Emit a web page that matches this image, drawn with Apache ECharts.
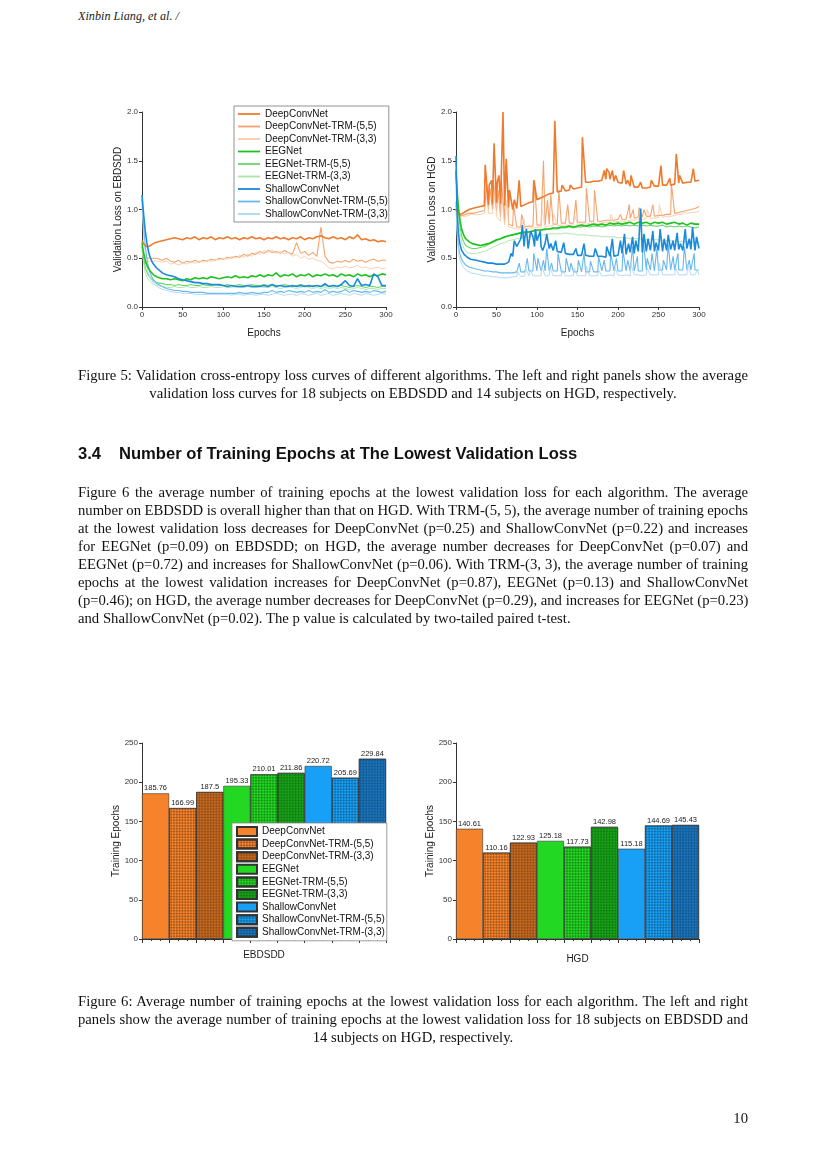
<!DOCTYPE html>
<html>
<head>
<meta charset="utf-8">
<script src="https://cdn.jsdelivr.net/npm/echarts@6/dist/echarts.min.js"></script>
<style>
  html, body { margin:0; padding:0; background:#fff; }
  #page { position:relative; width:827px; height:1169px; overflow:hidden; background:#fff; }
  .chart { position:absolute; left:0; top:0; width:827px; height:1169px; }
  .t { position:absolute; font-family:"Liberation Serif","Times New Roman",serif; font-size:14.7px; line-height:18px; color:#111; white-space:nowrap; }
  .j { left:78px; width:670px; text-align:justify; text-align-last:justify; }
  .c { left:78px; width:670px; text-align:center; }
  .l { left:78px; width:670px; text-align:left; }
  .hdr { position:absolute; left:78px; top:9px; font-family:"Liberation Serif",serif; font-style:italic; font-size:12.2px; color:#222; }
  .sec { position:absolute; top:444px; font-family:"Liberation Sans",Arial,sans-serif; font-weight:bold; font-size:16.6px; color:#111; white-space:nowrap; }
</style>
</head>
<body>
<div id="page">
  <div class="hdr">Xinbin Liang, et al. /</div>

  <div id="lines" class="chart"></div>
  <div id="bars" class="chart"></div>

  <div class="t j" style="top:366px">Figure 5: Validation cross-entropy loss curves of different algorithms. The left and right panels show the average</div>
  <div class="t c" style="top:384px">validation loss curves for 18 subjects on EBDSDD and 14 subjects on HGD, respectively.</div>

  <div class="sec" style="left:78px">3.4</div>
  <div class="sec" style="left:119px">Number of Training Epochs at The Lowest Validation Loss</div>

  <div class="t j" style="top:483px">Figure 6 the average number of training epochs at the lowest validation loss for each algorithm. The average</div>
  <div class="t j" style="top:501px">number on EBDSDD is overall higher than that on HGD. With TRM-(5, 5), the average number of training epochs</div>
  <div class="t j" style="top:519px">at the lowest validation loss decreases for DeepConvNet (p=0.25) and ShallowConvNet (p=0.22) and increases</div>
  <div class="t j" style="top:537px">for EEGNet (p=0.09) on EBDSDD; on HGD, the average number decreases for DeepConvNet (p=0.07) and</div>
  <div class="t j" style="top:555px">EEGNet (p=0.72) and increases for ShallowConvNet (p=0.06). With TRM-(3, 3), the average number of training</div>
  <div class="t j" style="top:573px">epochs at the lowest validation increases for DeepConvNet (p=0.87), EEGNet (p=0.13) and ShallowConvNet</div>
  <div class="t j" style="top:591px">(p=0.46); on HGD, the average number decreases for DeepConvNet (p=0.29), and increases for EEGNet (p=0.23)</div>
  <div class="t l" style="top:609px">and ShallowConvNet (p=0.02). The p value is calculated by two-tailed paired t-test.</div>

  <div class="t j" style="top:992px">Figure 6: Average number of training epochs at the lowest validation loss for each algorithm. The left and right</div>
  <div class="t j" style="top:1010px">panels show the average number of training epochs at the lowest validation loss for 18 subjects on EBDSDD and</div>
  <div class="t c" style="top:1028px">14 subjects on HGD, respectively.</div>

  <div class="t" style="left:700px;width:48px;text-align:right;top:1109px">10</div>
</div>

<script>
// fit justified lines that are naturally a bit too wide
document.querySelectorAll('.j').forEach(el => {
  let ws = 0;
  while (el.scrollWidth > el.clientWidth + 0.5 && ws > -3) {
    ws -= 0.25;
    el.style.wordSpacing = ws + 'px';
  }
});

// ---------------- DATA ----------------
const SERIES_NAMES = ['DeepConvNet','DeepConvNet-TRM-(5,5)','DeepConvNet-TRM-(3,3)',
  'EEGNet','EEGNet-TRM-(5,5)','EEGNet-TRM-(3,3)',
  'ShallowConvNet','ShallowConvNet-TRM-(5,5)','ShallowConvNet-TRM-(3,3)'];

const EPOCHS = [0,1,2,3,4,5,6,7,8,10,12,14,16,18,20,
  25,30,35,40,45,50,55,60, 65,70,75,80,85,90,95,100, 105,110,115,120,125,130,135,140,
  145,150,155,160,165,170,175,180, 185,190,195,200,205,210,215,220,
  225,230,235,240,245,250,255,260, 265,270,275,280,285,290,295,300];

// EBDSDD validation loss (left panel)
const L_deep = [0.68,0.66,0.65,0.64,0.63,0.62,0.62,0.61,0.62,0.63,0.64,0.65,0.66,0.66,0.67,
  0.68,0.69,0.70,0.71,0.70,0.69,0.71,0.70, 0.72,0.69,0.71,0.70,0.72,0.69,0.71,0.70,
  0.72,0.70,0.71,0.69,0.71,0.70,0.72,0.70, 0.71,0.69,0.71,0.70,0.72,0.70,0.71,0.69,
  0.71,0.70,0.72,0.69,0.71,0.70,0.72,0.73, 0.71,0.70,0.72,0.70,0.71,0.69,0.72,0.70,
  0.74,0.69,0.70,0.68,0.69,0.67,0.68,0.67];
const L_deep5 = [0.62,0.58,0.55,0.53,0.52,0.51,0.50,0.50,0.49,0.50,0.49,0.50,0.49,0.50,0.49,
  0.48,0.50,0.47,0.46,0.48,0.45,0.47,0.46, 0.48,0.46,0.48,0.47,0.49,0.48,0.50,0.49,
  0.51,0.50,0.52,0.51,0.54,0.52,0.55,0.54, 0.57,0.55,0.58,0.56,0.57,0.55,0.58,0.56,
  0.54,0.66,0.55,0.57,0.53,0.56,0.52,0.82, 0.52,0.46,0.45,0.47,0.46,0.48,0.46,0.49,
  0.47,0.48,0.46,0.48,0.49,0.47,0.48,0.48];
const L_deep3 = [0.58,0.52,0.48,0.46,0.45,0.45,0.46,0.47,0.48,0.47,0.48,0.47,0.48,0.47,0.48,
  0.46,0.47,0.44,0.45,0.43,0.45,0.44,0.46, 0.45,0.47,0.46,0.48,0.47,0.49,0.48,0.50,
  0.49,0.52,0.50,0.53,0.51,0.54,0.52,0.56, 0.54,0.58,0.56,0.59,0.55,0.57,0.54,0.56,
  0.52,0.54,0.50,0.52,0.49,0.50,0.48,0.47, 0.44,0.40,0.39,0.41,0.40,0.42,0.40,0.41,
  0.43,0.40,0.41,0.39,0.40,0.41,0.39,0.40];
const L_eeg = [0.66,0.60,0.55,0.51,0.48,0.45,0.43,0.41,0.40,0.37,0.35,0.33,0.32,0.31,0.30,
  0.29,0.29,0.28,0.29,0.28,0.27,0.29,0.28, 0.30,0.29,0.30,0.29,0.31,0.30,0.29,0.30,
  0.31,0.30,0.32,0.30,0.31,0.30,0.32,0.31, 0.33,0.31,0.33,0.32,0.35,0.31,0.33,0.32,
  0.34,0.31,0.33,0.32,0.34,0.31,0.33,0.32, 0.34,0.32,0.33,0.31,0.34,0.32,0.33,0.31,
  0.34,0.32,0.33,0.31,0.33,0.32,0.34,0.33];
const L_eeg5 = [0.62,0.55,0.49,0.45,0.41,0.38,0.36,0.34,0.32,0.30,0.28,0.27,0.26,0.25,0.25,
  0.24,0.23,0.23,0.22,0.23,0.22,0.22,0.23, 0.22,0.22,0.23,0.22,0.22,0.23,0.22,0.22,
  0.23,0.22,0.22,0.23,0.22,0.22,0.23,0.22, 0.22,0.23,0.22,0.23,0.22,0.22,0.23,0.22,
  0.21,0.22,0.23,0.22,0.21,0.22,0.22,0.21, 0.22,0.21,0.22,0.21,0.22,0.21,0.20,0.21,
  0.22,0.21,0.20,0.21,0.21,0.20,0.21,0.21];
const L_eeg3 = [0.60,0.52,0.45,0.40,0.36,0.33,0.31,0.29,0.28,0.26,0.24,0.23,0.22,0.22,0.21,
  0.21,0.20,0.20,0.21,0.20,0.20,0.21,0.20, 0.20,0.21,0.20,0.20,0.21,0.20,0.20,0.21,
  0.20,0.20,0.21,0.20,0.20,0.21,0.20,0.20, 0.21,0.20,0.20,0.21,0.20,0.19,0.20,0.21,
  0.20,0.19,0.20,0.21,0.20,0.19,0.20,0.19, 0.20,0.19,0.20,0.19,0.20,0.19,0.18,0.19,
  0.20,0.19,0.18,0.19,0.19,0.18,0.19,0.19];
const L_sh = [1.15,1.05,0.95,0.86,0.78,0.72,0.66,0.61,0.57,0.51,0.47,0.44,0.42,0.40,0.38,
  0.35,0.33,0.32,0.31,0.29,0.28,0.27,0.26, 0.25,0.25,0.24,0.24,0.23,0.23,0.23,0.22,
  0.21,0.22,0.21,0.21,0.21,0.22,0.21,0.21, 0.21,0.22,0.21,0.23,0.21,0.22,0.21,0.21,
  0.22,0.21,0.22,0.21,0.22,0.21,0.22,0.21, 0.24,0.21,0.22,0.21,0.23,0.27,0.22,0.21,
  0.29,0.22,0.23,0.22,0.34,0.31,0.22,0.22];
const L_sh5 = [1.10,0.95,0.82,0.72,0.63,0.56,0.50,0.45,0.41,0.35,0.31,0.28,0.26,0.24,0.23,
  0.21,0.19,0.18,0.17,0.17,0.16,0.16,0.15, 0.15,0.15,0.15,0.14,0.14,0.14,0.14,0.14,
  0.14,0.14,0.14,0.15,0.14,0.14,0.15,0.14, 0.14,0.15,0.15,0.17,0.15,0.16,0.15,0.17,
  0.16,0.15,0.16,0.15,0.17,0.15,0.16,0.15, 0.18,0.15,0.16,0.15,0.16,0.18,0.15,0.17,
  0.16,0.15,0.16,0.15,0.17,0.16,0.15,0.16];
const L_sh3 = [1.05,0.88,0.74,0.63,0.54,0.47,0.42,0.38,0.35,0.30,0.27,0.25,0.23,0.21,0.20,
  0.18,0.17,0.16,0.15,0.15,0.14,0.14,0.14, 0.13,0.13,0.13,0.13,0.13,0.13,0.13,0.13,
  0.13,0.12,0.13,0.13,0.12,0.13,0.13,0.12, 0.13,0.13,0.12,0.13,0.14,0.13,0.12,0.13,
  0.13,0.12,0.14,0.13,0.12,0.13,0.14,0.12, 0.13,0.14,0.12,0.13,0.14,0.13,0.12,0.14,
  0.13,0.12,0.14,0.13,0.12,0.13,0.14,0.13];

// HGD validation loss (right panel): baseline on EPOCHS + spikes [epoch, loss]
const R_deep = [1.00,0.98,0.97,0.96,0.95,0.95,0.95,0.96,0.96,0.97,0.98,0.99,1.00,1.00,1.01,
  1.02,1.03,1.04,1.05,1.06,1.07,1.06,1.04, 1.02,1.00,1.01,1.03,1.05,1.07,1.08,1.10,
  1.12,1.14,1.16,1.17,1.18,1.19,1.19,1.20, 1.21,1.22,1.23,1.28,1.28,1.29,1.29,1.30,
  1.31,1.31,1.29,1.28,1.27,1.26,1.24,1.23, 1.23,1.22,1.22,1.23,1.24,1.24,1.25,1.25,
  1.25,1.26,1.27,1.27,1.28,1.28,1.29,1.30];
const R_deep_spk = [[36,1.46],[41,1.25],[44,1.30],[47,1.68],[51,1.28],[53,1.35],[58,2.00],[62,1.52],
  [66,1.20],[68,1.22],[72,1.10],[78,1.30],[96,1.30],[122,1.91],[131,1.25],[141,1.25],[156,1.74],
  [183,1.40],[186,1.42],[189,1.38],[193,1.40],[197,1.35],[207,1.40],[212,1.30],[216,1.35],
  [228,1.28],[241,1.30],[253,1.45],[264,1.32],[272,1.57],[276,1.35],[293,1.42]];
const R_deep5 = [1.00,0.98,0.96,0.95,0.94,0.94,0.94,0.94,0.94,0.94,0.95,0.95,0.96,0.96,0.96,
  0.97,0.98,0.99,1.00,1.00,0.98,0.92,0.88, 0.85,0.83,0.82,0.82,0.82,0.83,0.83,0.84,
  0.84,0.84,0.85,0.85,0.85,0.86,0.86,0.86, 0.86,0.87,0.87,0.87,0.88,0.88,0.88,0.88,
  0.89,0.89,0.89,0.90,0.90,0.90,0.91,0.91, 0.92,0.92,0.93,0.93,0.93,0.94,0.94,0.95,
  0.95,0.96,0.97,0.98,0.99,1.00,1.01,1.03];
const R_deep5_spk = [[38,1.25],[42,1.22],[46,1.30],[52,1.20],[56,1.30],[61,1.45],[64,1.15],[71,1.05],
  [81,0.95],[97,1.30],[108,1.50],[113,1.10],[117,1.15],[127,1.20],[138,1.05],[148,1.10],[161,1.22],
  [171,1.20],[203,0.95],[214,1.05],[219,1.00],[226,1.02],[232,1.00],[243,1.05],[266,1.26]];
const R_deep3 = [0.98,0.96,0.94,0.93,0.93,0.93,0.93,0.93,0.93,0.93,0.93,0.94,0.94,0.94,0.95,
  0.95,0.95,0.96,0.96,0.96,0.93,0.88,0.84, 0.82,0.81,0.80,0.80,0.80,0.81,0.81,0.82,
  0.82,0.82,0.83,0.83,0.83,0.84,0.84,0.84, 0.84,0.85,0.85,0.85,0.86,0.86,0.86,0.86,
  0.87,0.87,0.87,0.88,0.88,0.88,0.89,0.89, 0.90,0.90,0.91,0.91,0.91,0.92,0.92,0.93,
  0.93,0.94,0.95,0.95,0.96,0.97,0.97,0.98];
const R_deep3_spk = [[39,1.20],[49,1.25],[56,1.18],[63,1.10],[84,0.90],[106,1.00],[121,0.95],[146,0.95],
  [191,0.95],[236,1.00],[251,1.05],[281,0.98]];
const R_eeg = [1.40,1.25,1.12,1.02,0.95,0.89,0.84,0.80,0.77,0.73,0.70,0.68,0.67,0.66,0.65,
  0.64,0.63,0.64,0.65,0.67,0.69,0.70,0.72, 0.73,0.74,0.75,0.76,0.77,0.77,0.78,0.79,
  0.79,0.80,0.80,0.81,0.81,0.82,0.82,0.83, 0.82,0.83,0.84,0.83,0.84,0.85,0.84,0.85,
  0.84,0.86,0.85,0.86,0.85,0.86,0.87,0.85, 0.87,0.86,0.87,0.85,0.87,0.86,0.87,0.85,
  0.86,0.87,0.85,0.86,0.84,0.86,0.85,0.85];
const R_eeg5 = [1.38,1.20,1.06,0.96,0.88,0.82,0.77,0.73,0.70,0.66,0.63,0.62,0.61,0.60,0.60,
  0.60,0.61,0.62,0.64,0.66,0.68,0.70,0.71, 0.73,0.74,0.75,0.76,0.76,0.77,0.78,0.78,
  0.79,0.79,0.80,0.80,0.80,0.81,0.81,0.82, 0.81,0.82,0.82,0.83,0.82,0.83,0.83,0.82,
  0.83,0.84,0.83,0.84,0.83,0.84,0.83,0.84, 0.83,0.84,0.83,0.84,0.83,0.83,0.84,0.82,
  0.83,0.82,0.83,0.82,0.83,0.82,0.81,0.82];
const R_eeg3 = [1.35,1.15,1.00,0.90,0.82,0.76,0.71,0.67,0.64,0.60,0.58,0.56,0.55,0.55,0.55,
  0.55,0.56,0.57,0.59,0.61,0.63,0.65,0.66, 0.68,0.69,0.70,0.71,0.72,0.72,0.73,0.73,
  0.74,0.74,0.75,0.75,0.75,0.75,0.76,0.75, 0.75,0.74,0.74,0.74,0.73,0.73,0.73,0.72,
  0.72,0.72,0.72,0.71,0.71,0.71,0.70,0.70, 0.70,0.70,0.69,0.69,0.69,0.69,0.68,0.68,
  0.68,0.68,0.67,0.67,0.67,0.67,0.66,0.66];
const R_sh = [1.55,1.10,0.88,0.76,0.69,0.64,0.61,0.58,0.56,0.54,0.52,0.51,0.50,0.49,0.49,
  0.48,0.47,0.46,0.45,0.45,0.44,0.44,0.44, 0.46,0.52,0.62,0.70,0.72,0.65,0.72,0.68,
  0.62,0.65,0.60,0.58,0.57,0.56,0.55,0.54, 0.54,0.53,0.53,0.53,0.52,0.52,0.52,0.52,
  0.51,0.52,0.52,0.53,0.55,0.54,0.56,0.55, 0.57,0.56,0.57,0.58,0.57,0.58,0.57,0.58,
  0.59,0.58,0.59,0.58,0.60,0.59,0.58,0.60];
const R_sh_spk = [[68,0.55],[72,0.68],[77,0.60],[82,0.84],[84,0.62],[87,0.80],[89,0.60],[92,0.78],
  [97,0.62],[98,0.80],[102,0.70],[104,0.78],[107,0.58],[112,0.75],[117,0.65],[123,0.68],[133,0.66],
  [148,0.60],[158,0.65],[172,0.60],[186,0.62],[193,0.70],[203,0.68],[208,0.75],[213,0.65],[218,0.72],
  [222,0.68],[228,1.01],[232,0.75],[237,0.70],[243,0.78],[247,0.66],[252,0.80],[257,0.70],[262,0.74],
  [268,0.68],[273,0.76],[277,0.65],[283,0.80],[288,0.70],[292,0.82],[297,0.72]];
const R_sh5 = [1.08,0.85,0.72,0.64,0.58,0.54,0.51,0.49,0.47,0.45,0.43,0.42,0.41,0.40,0.40,
  0.39,0.38,0.37,0.37,0.36,0.36,0.35,0.35, 0.35,0.35,0.36,0.36,0.36,0.37,0.37,0.37,
  0.37,0.37,0.37,0.37,0.37,0.36,0.36,0.36, 0.36,0.36,0.36,0.36,0.36,0.36,0.36,0.37,
  0.37,0.37,0.37,0.37,0.37,0.37,0.37,0.37, 0.37,0.37,0.38,0.38,0.37,0.38,0.38,0.38,
  0.38,0.38,0.38,0.38,0.38,0.38,0.38,0.38];
const R_sh5_spk = [[78,0.45],[88,0.50],[96,0.55],[101,0.50],[108,0.48],[112,0.60],[118,0.45],[126,0.55],
  [136,0.50],[142,0.45],[151,0.48],[158,0.55],[166,0.47],[176,0.52],[183,0.48],[191,0.55],[198,0.50],
  [206,0.58],[212,0.48],[218,0.62],[224,0.52],[231,0.70],[236,0.50],[242,0.55],[248,0.60],[256,0.48],
  [262,0.65],[268,0.52],[274,0.55],[282,0.62],[288,0.48],[294,0.55]];
const R_sh3 = [1.05,0.80,0.67,0.58,0.52,0.48,0.46,0.44,0.42,0.40,0.38,0.37,0.36,0.35,0.35,
  0.34,0.33,0.32,0.32,0.31,0.31,0.30,0.30, 0.30,0.31,0.31,0.31,0.32,0.32,0.32,0.32,
  0.32,0.32,0.32,0.32,0.32,0.32,0.32,0.32, 0.32,0.32,0.32,0.32,0.32,0.32,0.32,0.32,
  0.32,0.33,0.32,0.33,0.32,0.33,0.32,0.33, 0.33,0.32,0.33,0.33,0.33,0.33,0.33,0.33,
  0.33,0.33,0.33,0.33,0.33,0.33,0.33,0.33];
const R_sh3_spk = [[76,0.36],[86,0.40],[92,0.38],[106,0.42],[116,0.40],[131,0.38],[146,0.40],[161,0.42],
  [176,0.38],[196,0.40],[216,0.44],[236,0.40],[251,0.45],[271,0.40],[286,0.44],[298,0.38]];

// Training epochs at lowest validation loss (bars)
const EBDSDD_EPOCHS = [185.76,166.99,187.5,195.33,210.01,211.86,220.72,205.69,229.84];
const HGD_EPOCHS = [140.61,110.16,122.93,125.18,117.73,142.98,115.18,144.69,145.43];
const LOSS_TICKS = [0,0.5,1.0,1.5,2.0];
const BAR_TICKS = [0,50,100,150,200,250];

// ---------------- STYLES ----------------
const FONT = '"Liberation Sans", Arial, sans-serif';
const LINE_COLORS = ['#F07A2C','#F4A46E','#F8CBA9','#1FC01F','#6DD46D','#A8E4A4','#1A8ADB','#66B8EE','#AAD6F4'];
const LINE_WIDTHS = [1.6,1.1,0.9,1.6,1.1,0.9,1.6,1.1,0.9];
const BAR_COLORS = ['#F6832B','#F6832B','#C4681F','#22D822','#22D822','#17A317','#18A0F6','#18A0F6','#1A74BC'];
const BAR_DECAL = [null,'a','b',null,'a','b',null,'a','b'];

function merge(vals, spikes) {
  const pts = EPOCHS.map((e, i) => [e, vals[i]]);
  if (spikes) spikes.forEach(p => pts.push(p));
  pts.sort((a, b) => a[0] - b[0]);
  return pts;
}

const leftSets = [L_deep, L_deep5, L_deep3, L_eeg, L_eeg5, L_eeg3, L_sh, L_sh5, L_sh3].map(v => merge(v));
const rightSets = [
  merge(R_deep, R_deep_spk), merge(R_deep5, R_deep5_spk), merge(R_deep3, R_deep3_spk),
  merge(R_eeg), merge(R_eeg5), merge(R_eeg3),
  merge(R_sh, R_sh_spk), merge(R_sh5, R_sh5_spk), merge(R_sh3, R_sh3_spk)];

const axisCommon = {
  axisLine: { show: true, lineStyle: { color: '#333', width: 1 } },
  axisTick: { show: true, inside: false, length: 3, lineStyle: { color: '#333' } },
  axisLabel: { fontFamily: FONT, fontSize: 8, color: '#333', margin: 4 },
  splitLine: { show: false },
  nameTextStyle: { fontFamily: FONT, fontSize: 10, color: '#222' }
};

function lineX(gi) {
  return Object.assign({}, axisCommon, { type: 'value', gridIndex: gi, min: 0, max: 300, interval: 50,
    name: 'Epochs', nameLocation: 'middle', nameGap: 21 });
}
function lineY(gi, name) {
  return Object.assign({}, axisCommon, { type: 'value', gridIndex: gi, min: LOSS_TICKS[0], max: LOSS_TICKS[LOSS_TICKS.length-1], interval: 0.5,
    name: name, nameLocation: 'middle', nameGap: 18,
    axisLabel: Object.assign({}, axisCommon.axisLabel, { formatter: v => v.toFixed(1) }) });
}

const lineSeries = [];
[leftSets, rightSets].forEach((sets, gi) => {
  sets.forEach((d, i) => {
    lineSeries.push({
      type: 'line', name: SERIES_NAMES[i], xAxisIndex: gi, yAxisIndex: gi,
      data: d, symbol: 'none', showSymbol: false, animation: false, z: 2 + (i % 3 === 0 ? 1 : 0),
      lineStyle: { color: LINE_COLORS[i], width: LINE_WIDTHS[i] },
      itemStyle: { color: LINE_COLORS[i] }
    });
  });
});

const lineChart = echarts.init(document.getElementById('lines'), null, { renderer: 'canvas' });
lineChart.setOption({
  animation: false,
  textStyle: { fontFamily: FONT },
  grid: [
    { left: 142, top: 112, width: 244, height: 195 },
    { left: 456, top: 112, width: 243, height: 195 }
  ],
  xAxis: [lineX(0), lineX(1)],
  yAxis: [lineY(0, 'Validation Loss on EBDSDD'), lineY(1, 'Validation Loss on HGD')],
  legend: {
    data: SERIES_NAMES.map((n, i) => ({ name: n, icon: 'rect', itemStyle: { color: LINE_COLORS[i] } })),
    orient: 'vertical', left: 234, top: 106,
    itemWidth: 22, itemHeight: 1.8, itemGap: 2.5,
    padding: [3, 1, 3, 4],
    backgroundColor: '#fff', borderColor: '#777', borderWidth: 0.8,
    textStyle: { fontFamily: FONT, fontSize: 10, color: '#111' },
    selectedMode: false
  },
  series: lineSeries
});

// ---------------- BARS ----------------
function decalFor(kind) {
  if (kind === 'a') return { symbol: 'rect', symbolSize: 1, color: 'rgba(0,0,0,0.30)',
    dashArrayX: [[2, 2], [0, 2, 2, 0]], dashArrayY: [2, 0], rotation: Math.PI / 4 };
  if (kind === 'b') return { symbol: 'rect', symbolSize: 1, color: 'rgba(0,0,0,0.22)',
    dashArrayX: [[1.5, 1.5], [0, 1.5, 1.5, 0]], dashArrayY: [1.5, 0], rotation: Math.PI / 4 };
  return null;
}

const CATS = SERIES_NAMES.map((n, i) => String(i));
function barCatX(gi, name, gap) {
  return { type: 'category', gridIndex: gi, data: CATS, axisLine: { show: false }, axisTick: { show: false },
    axisLabel: { show: false }, splitLine: { show: false },
    name: name, nameLocation: 'middle', nameGap: gap,
    nameTextStyle: { fontFamily: FONT, fontSize: 10, color: '#222' } };
}
function barTickX(gi) {
  return { type: 'value', gridIndex: gi, min: 0, max: 9, interval: 1, position: 'bottom',
    axisLine: { show: true, onZero: false, lineStyle: { color: '#333' } },
    axisTick: { show: true, length: 4, lineStyle: { color: '#333' } },
    minorTick: { show: true, splitNumber: 3, length: 2, lineStyle: { color: '#333' } },
    axisLabel: { show: false }, splitLine: { show: false } };
}
function barY(gi) {
  return Object.assign({}, axisCommon, { type: 'value', gridIndex: gi, min: BAR_TICKS[0], max: BAR_TICKS[BAR_TICKS.length-1], interval: 50,
    name: 'Training Epochs', nameLocation: 'middle', nameGap: 21,
    nameTextStyle: { fontFamily: FONT, fontSize: 10, color: '#222' } });
}

const barSeries = [];
[EBDSDD_EPOCHS, HGD_EPOCHS].forEach((vals, gi) => {
  vals.forEach((v, i) => {
    const data = CATS.map((c, k) => (k === i ? v : '-'));
    const st = { color: BAR_COLORS[i], borderColor: '#333', borderWidth: 0.6 };
    const dk = decalFor(BAR_DECAL[i]);
    if (dk) st.decal = dk;
    barSeries.push({
      type: 'bar', name: SERIES_NAMES[i], xAxisIndex: gi * 2, yAxisIndex: gi,
      stack: 'g' + gi, data: data, barCategoryGap: '0%', barGap: '0%', animation: false,
      itemStyle: st,
      label: { show: true, position: 'top', distance: 1, fontFamily: FONT, fontSize: 7.5, color: '#222',
        backgroundColor: '#fff', padding: [0, 1, 0, 1],
        formatter: p => String(p.value) }
    });
  });
});

const barChart = echarts.init(document.getElementById('bars'), null, { renderer: 'canvas' });
barChart.setOption({
  animation: false,
  textStyle: { fontFamily: FONT },
  grid: [
    { left: 142, top: 743, width: 244, height: 196 },
    { left: 456, top: 743, width: 243, height: 196 }
  ],
  xAxis: [barCatX(0, 'EBDSDD', 11), barTickX(0), barCatX(1, 'HGD', 15), barTickX(1)],
  yAxis: [barY(0), barY(1)],
  legend: {
    data: SERIES_NAMES, orient: 'vertical', left: 232, top: 823, icon: 'rect',
    itemWidth: 20, itemHeight: 9, itemGap: 1.6,
    padding: [3, 2, 3, 4],
    backgroundColor: '#fff', borderColor: '#888', borderWidth: 0.8,
    textStyle: { fontFamily: FONT, fontSize: 10, color: '#111' },
    selectedMode: false
  },
  series: barSeries
});
</script>
</body>
</html>
